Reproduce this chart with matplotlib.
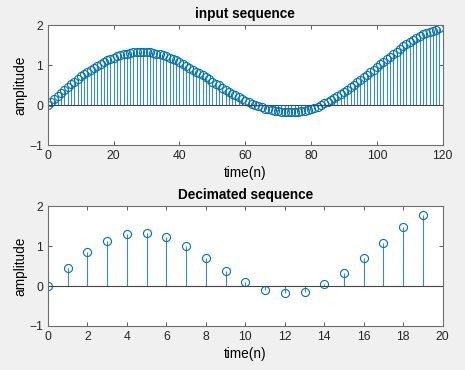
import numpy as np
import matplotlib.pyplot as plt

# input sequence, n = 0..119
x_in = [0.00, 0.08, 0.16, 0.23, 0.30, 0.38, 0.45,
        0.52, 0.59, 0.65, 0.72, 0.78, 0.84,
        0.89, 0.94, 0.99, 1.04, 1.09, 1.13,
        1.16, 1.19, 1.22, 1.25, 1.27, 1.29,
        1.31, 1.32, 1.33, 1.33, 1.33, 1.33,
        1.32, 1.31, 1.29, 1.27, 1.25, 1.22,
        1.19, 1.15, 1.12, 1.08, 1.04, 0.99,
        0.94, 0.89, 0.84, 0.80, 0.75, 0.70,
        0.65, 0.59, 0.54, 0.49, 0.43, 0.38,
        0.33, 0.28, 0.24, 0.19, 0.15, 0.11,
        0.07, 0.03, 0.00, -0.03, -0.06, -0.09,
        -0.11, -0.13, -0.15, -0.16, -0.17, -0.18,
        -0.18, -0.18, -0.17, -0.17, -0.16, -0.14,
        -0.12, -0.10, -0.07, -0.04, 0.00, 0.04,
        0.08, 0.13, 0.17, 0.22, 0.27, 0.32,
        0.38, 0.44, 0.50, 0.57, 0.63, 0.70,
        0.76, 0.83, 0.89, 0.96, 1.02, 1.08,
        1.15, 1.21, 1.28, 1.34, 1.41, 1.47,
        1.52, 1.57, 1.62, 1.67, 1.72, 1.77,
        1.80, 1.83, 1.86, 1.89, 1.92]
n_in = np.arange(len(x_in))

# decimated sequence, n = 0..19
x_dec = [0.00, 0.45, 0.84, 1.13, 1.29, 1.33, 1.22, 0.99, 0.70, 0.38,
         0.11, -0.09, -0.18, -0.14, 0.04, 0.32, 0.70, 1.08, 1.47, 1.77]
n_dec = np.arange(len(x_dec))

plt.rcParams['font.family'] = ['Liberation Sans', 'DejaVu Sans']
blue = '#0072BD'
edge = '#6e6e6e'

fig = plt.figure(figsize=(4.65, 3.7), dpi=100, facecolor='#f0f0f0')
ax1 = fig.add_axes([0.103, 0.608, 0.849, 0.324])
ax2 = fig.add_axes([0.103, 0.119, 0.849, 0.324])


def stem_plot(ax, n, x, xlim, xticks, title):
    ml, sl, bl = ax.stem(n, x, basefmt='-')
    plt.setp(sl, color='#3a8cc8', linewidth=0.8)
    plt.setp(ml, markerfacecolor='none', markeredgecolor=blue, markersize=5.8, markeredgewidth=0.8)
    plt.setp(bl, color='#444444', linewidth=0.8)
    bl.set_xdata([xlim[0], xlim[1]])
    ax.set_xlim(*xlim)
    ax.set_ylim(-1, 2)
    ax.set_xticks(xticks)
    ax.set_yticks([-1, 0, 1, 2])
    ax.tick_params(direction='in', top=True, right=True, length=3, width=0.6,
                   colors='#444444', labelsize=8.8, labelcolor='#262626')
    for s in ax.spines.values():
        s.set_color(edge)
        s.set_linewidth(0.8)
    ax.set_title(title, fontsize=9.8, fontweight='bold', pad=5)
    ax.set_xlabel('time(n)', fontsize=9.8, labelpad=3)
    ax.set_ylabel('amplitude', fontsize=9.8, labelpad=1)


stem_plot(ax1, n_in, x_in, (0, 120), range(0, 121, 20), 'input sequence')
stem_plot(ax2, n_dec, x_dec, (0, 20), range(0, 21, 2), 'Decimated sequence')

fig.savefig('out.png', dpi=100, facecolor=fig.get_facecolor())
